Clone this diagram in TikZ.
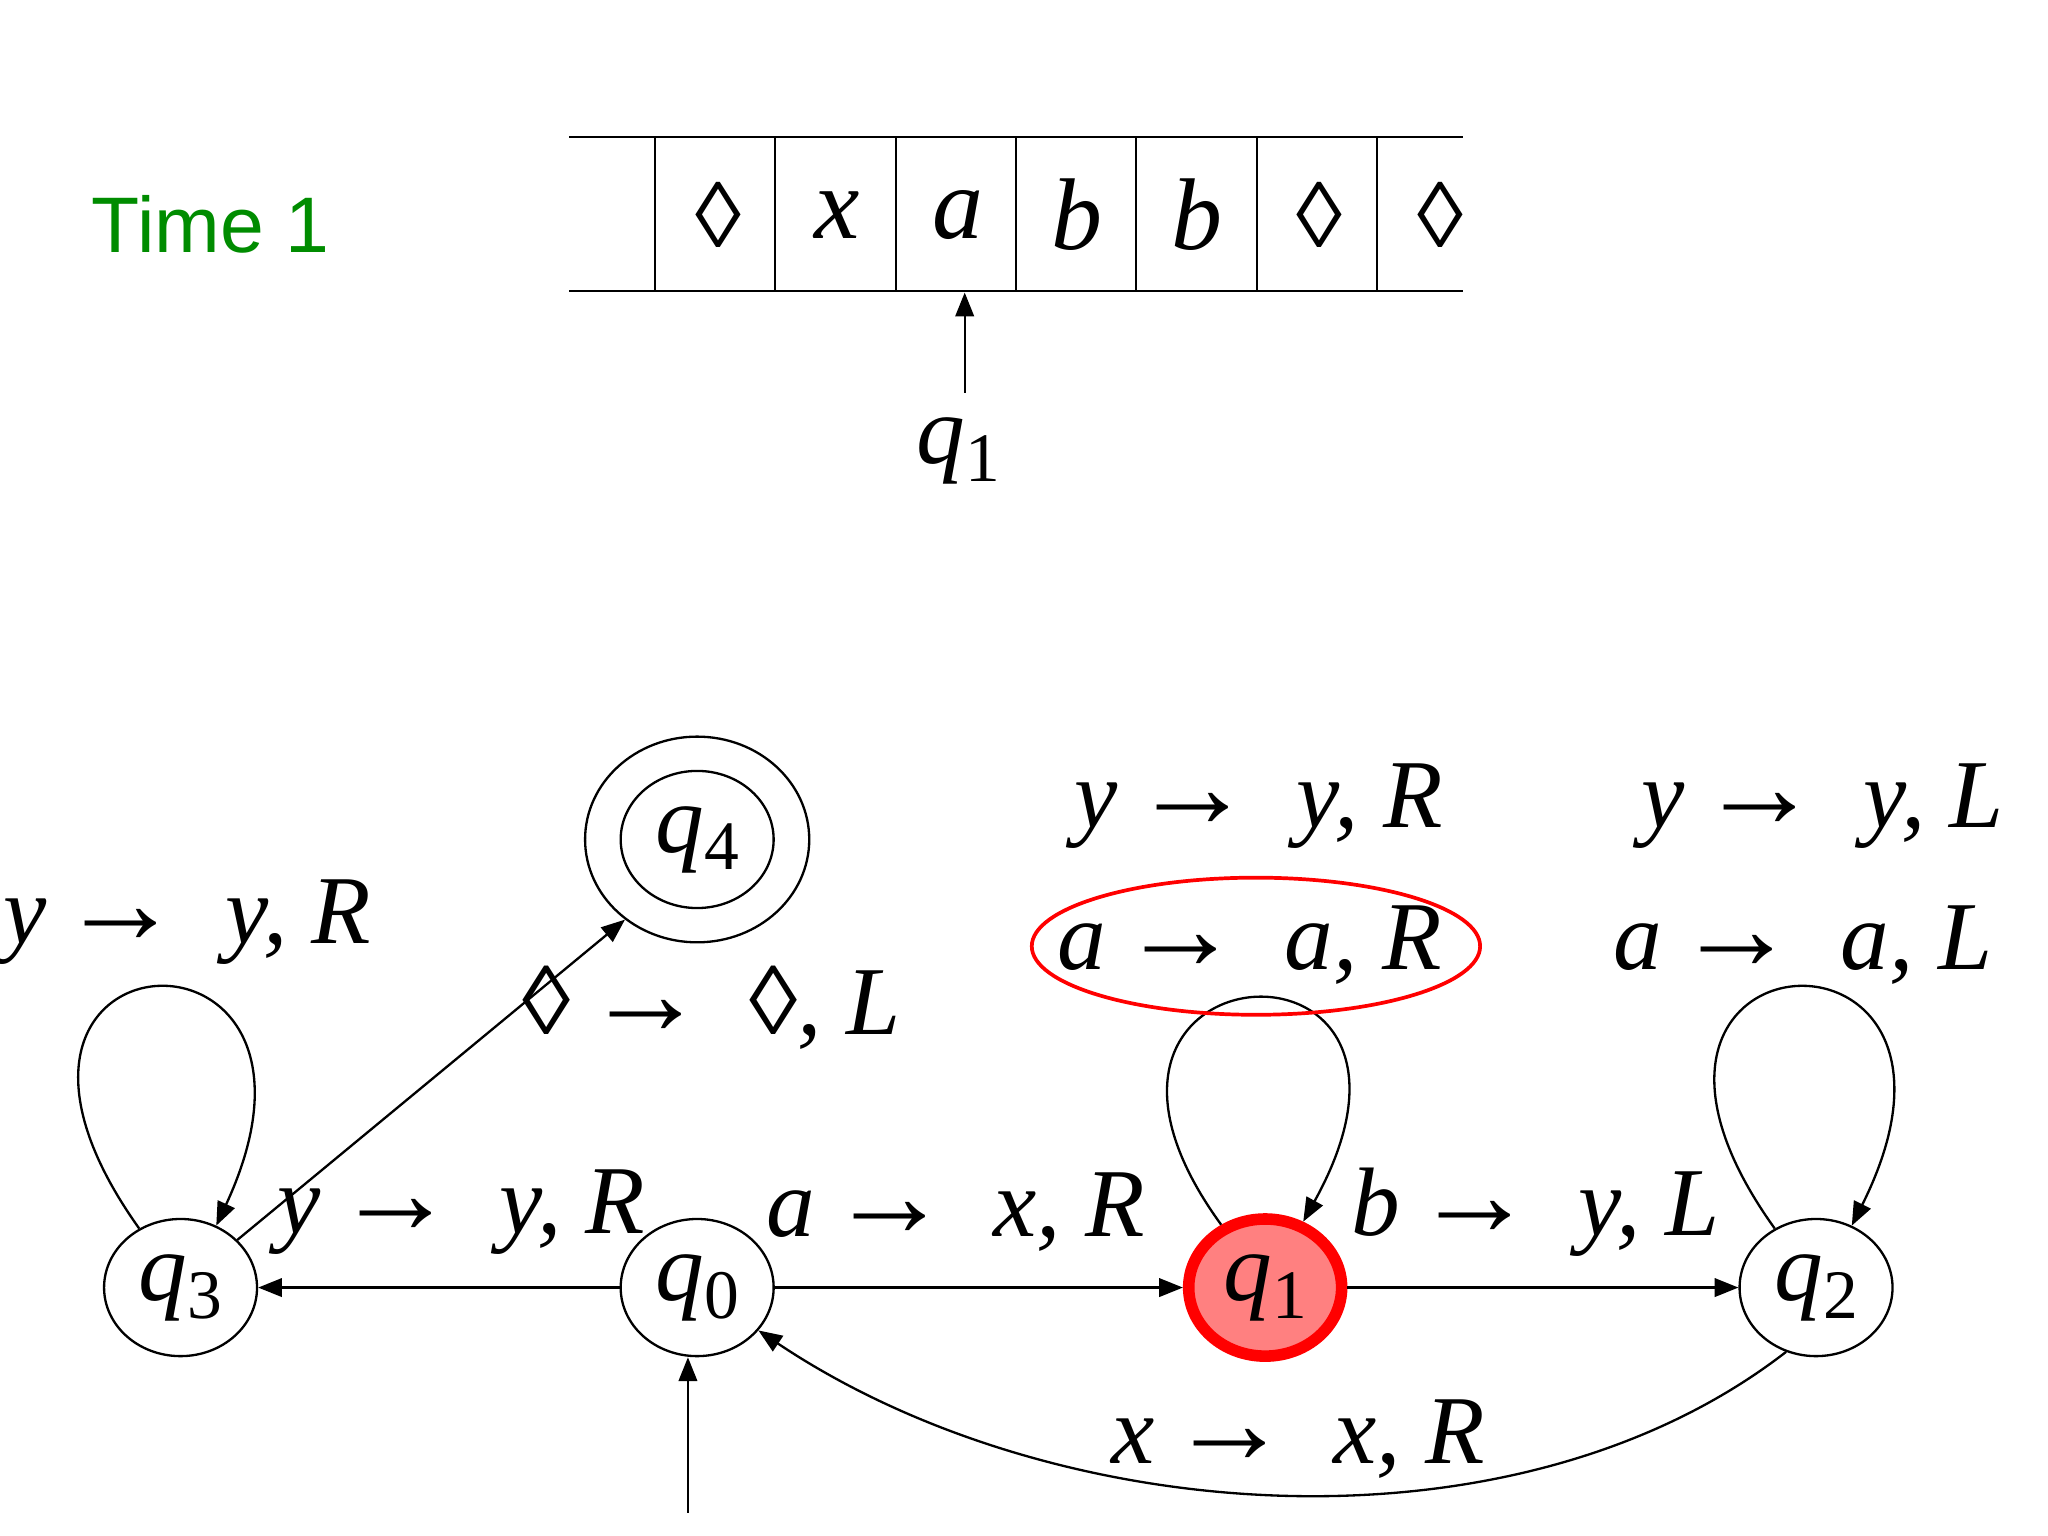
\documentclass[tikz,border=0pt]{standalone}
\usepackage{fontspec}
\setmainfont{Liberation Serif}
\newfontfamily\timefont{Liberation Sans}
\usetikzlibrary{shapes.geometric,arrows.meta}
\begin{document}
\begin{tikzpicture}[x=0.01cm,y=-0.01cm,
  st/.style={ellipse,draw,line width=0.5pt,minimum width=1.16cm,minimum height=1.04cm,inner sep=0pt,font=\fontsize{21}{21}\selectfont\itshape},
  lab/.style={font=\fontsize{21}{21}\selectfont\itshape,inner sep=0pt},
  sym/.style={font=\fontsize{22}{22}\selectfont\itshape,inner sep=0pt},
  arr/.style={-{Triangle[length=0.18cm,width=0.14cm]},line width=0.5pt}]
\useasboundingbox (0,0) rectangle (1554,1165);
\newcommand{\qq}[1]{q\raisebox{-0.4ex}{\upshape\fontsize{15}{15}\selectfont #1}}
\newcommand{\ar}{\hspace{0.15em}{\upshape\fontsize{26}{21}\selectfont→}\hspace{0.45em}}
\node[text=green!55!black,font=\timefont\fontsize{17}{17}\selectfont] (time) at (160,170) {Time 1};
% tape
\draw[line width=0.5pt] (432,104) -- (1110,104) (432,221) -- (1110,221);
\foreach \x in {497,588,680,771,862,954,1045} \draw[line width=0.5pt] (\x,104) -- (\x,221);
\node[sym,font=\fontsize{20}{20}\selectfont] (c1) at (545,163) {◊};
\node[sym] (c2) at (635,163) {x};
\node[sym] (c3) at (727,163) {a};
\node[sym] (c4) at (817,163) {b};
\node[sym] (c5) at (908,163) {b};
\node[sym,font=\fontsize{20}{20}\selectfont] (c6) at (1001,163) {◊};
\node[sym,font=\fontsize{20}{20}\selectfont] (c7) at (1093,163) {◊};
\node[lab] (head) at (727,342) {\qq{1}};
\coordinate (hs) at (732,298);
\coordinate (ht) at (732,222);
\draw[arr] (hs) -- (ht);
% states
\node[st] (q3) at (137,977) {\qq{3}};
\node[st] (q0) at (529,977) {\qq{0}};
\node[st,fill=red!50,draw=red,line width=2.5pt] (q1) at (960,977) {\qq{1}};
\node[st] (q2) at (1378,977) {\qq{2}};
\node[st] (q4) at (529,637) {\qq{4}};
\node[ellipse,draw,line width=0.5pt,minimum width=1.7cm,minimum height=1.56cm] (q4o) at (529,637) {};
\coordinate (start) at (522,1148);
\draw[arr] (start) -- (q0.south -| start);
\draw[arr] (q0) -- (q3);
\draw[arr] (q0) -- (q1);
\draw[arr] (q1) -- (q2);
\draw[arr] (q3.40) -- (q4o.228);
\draw[arr] (q2.-115) .. controls (1150,1185) and (800,1160) .. (q0.-35);
\draw[arr] (q3.125) .. controls (-60,700) and (280,680) .. (q3.60);
\draw[arr] (q1.125) .. controls (770,714) and (1120,690) .. (q1.60);
\draw[arr] (q2.125) .. controls (1180,700) and (1530,680) .. (q2.60);
% labels
\node[lab] (l1) at (142,700) {y\ar y, R};
\node[lab] (l2) at (540,765) {\upshape◊\ar ◊\itshape, L};
\node[lab] (l3) at (350,920) {y\ar y, R};
\node[lab] (l4) at (725,920) {a\ar x, R};
\node[lab] (l5) at (955,612) {y\ar y, R};
\node[lab] (l6) at (948,717) {a\ar a, R};
\node[ellipse,draw=red,line width=0.8pt,minimum width=3.4cm,minimum height=1.04cm] (hl) at (953,718) {};
\node[lab] (l7) at (1383,612) {y\ar y, L};
\node[lab] (l8) at (1368,717) {a\ar a, L};
\node[lab] (l9) at (1165,920) {b\ar y, L};
\node[lab] (l10) at (985,1092) {x\ar x, R};
\end{tikzpicture}
\end{document}
